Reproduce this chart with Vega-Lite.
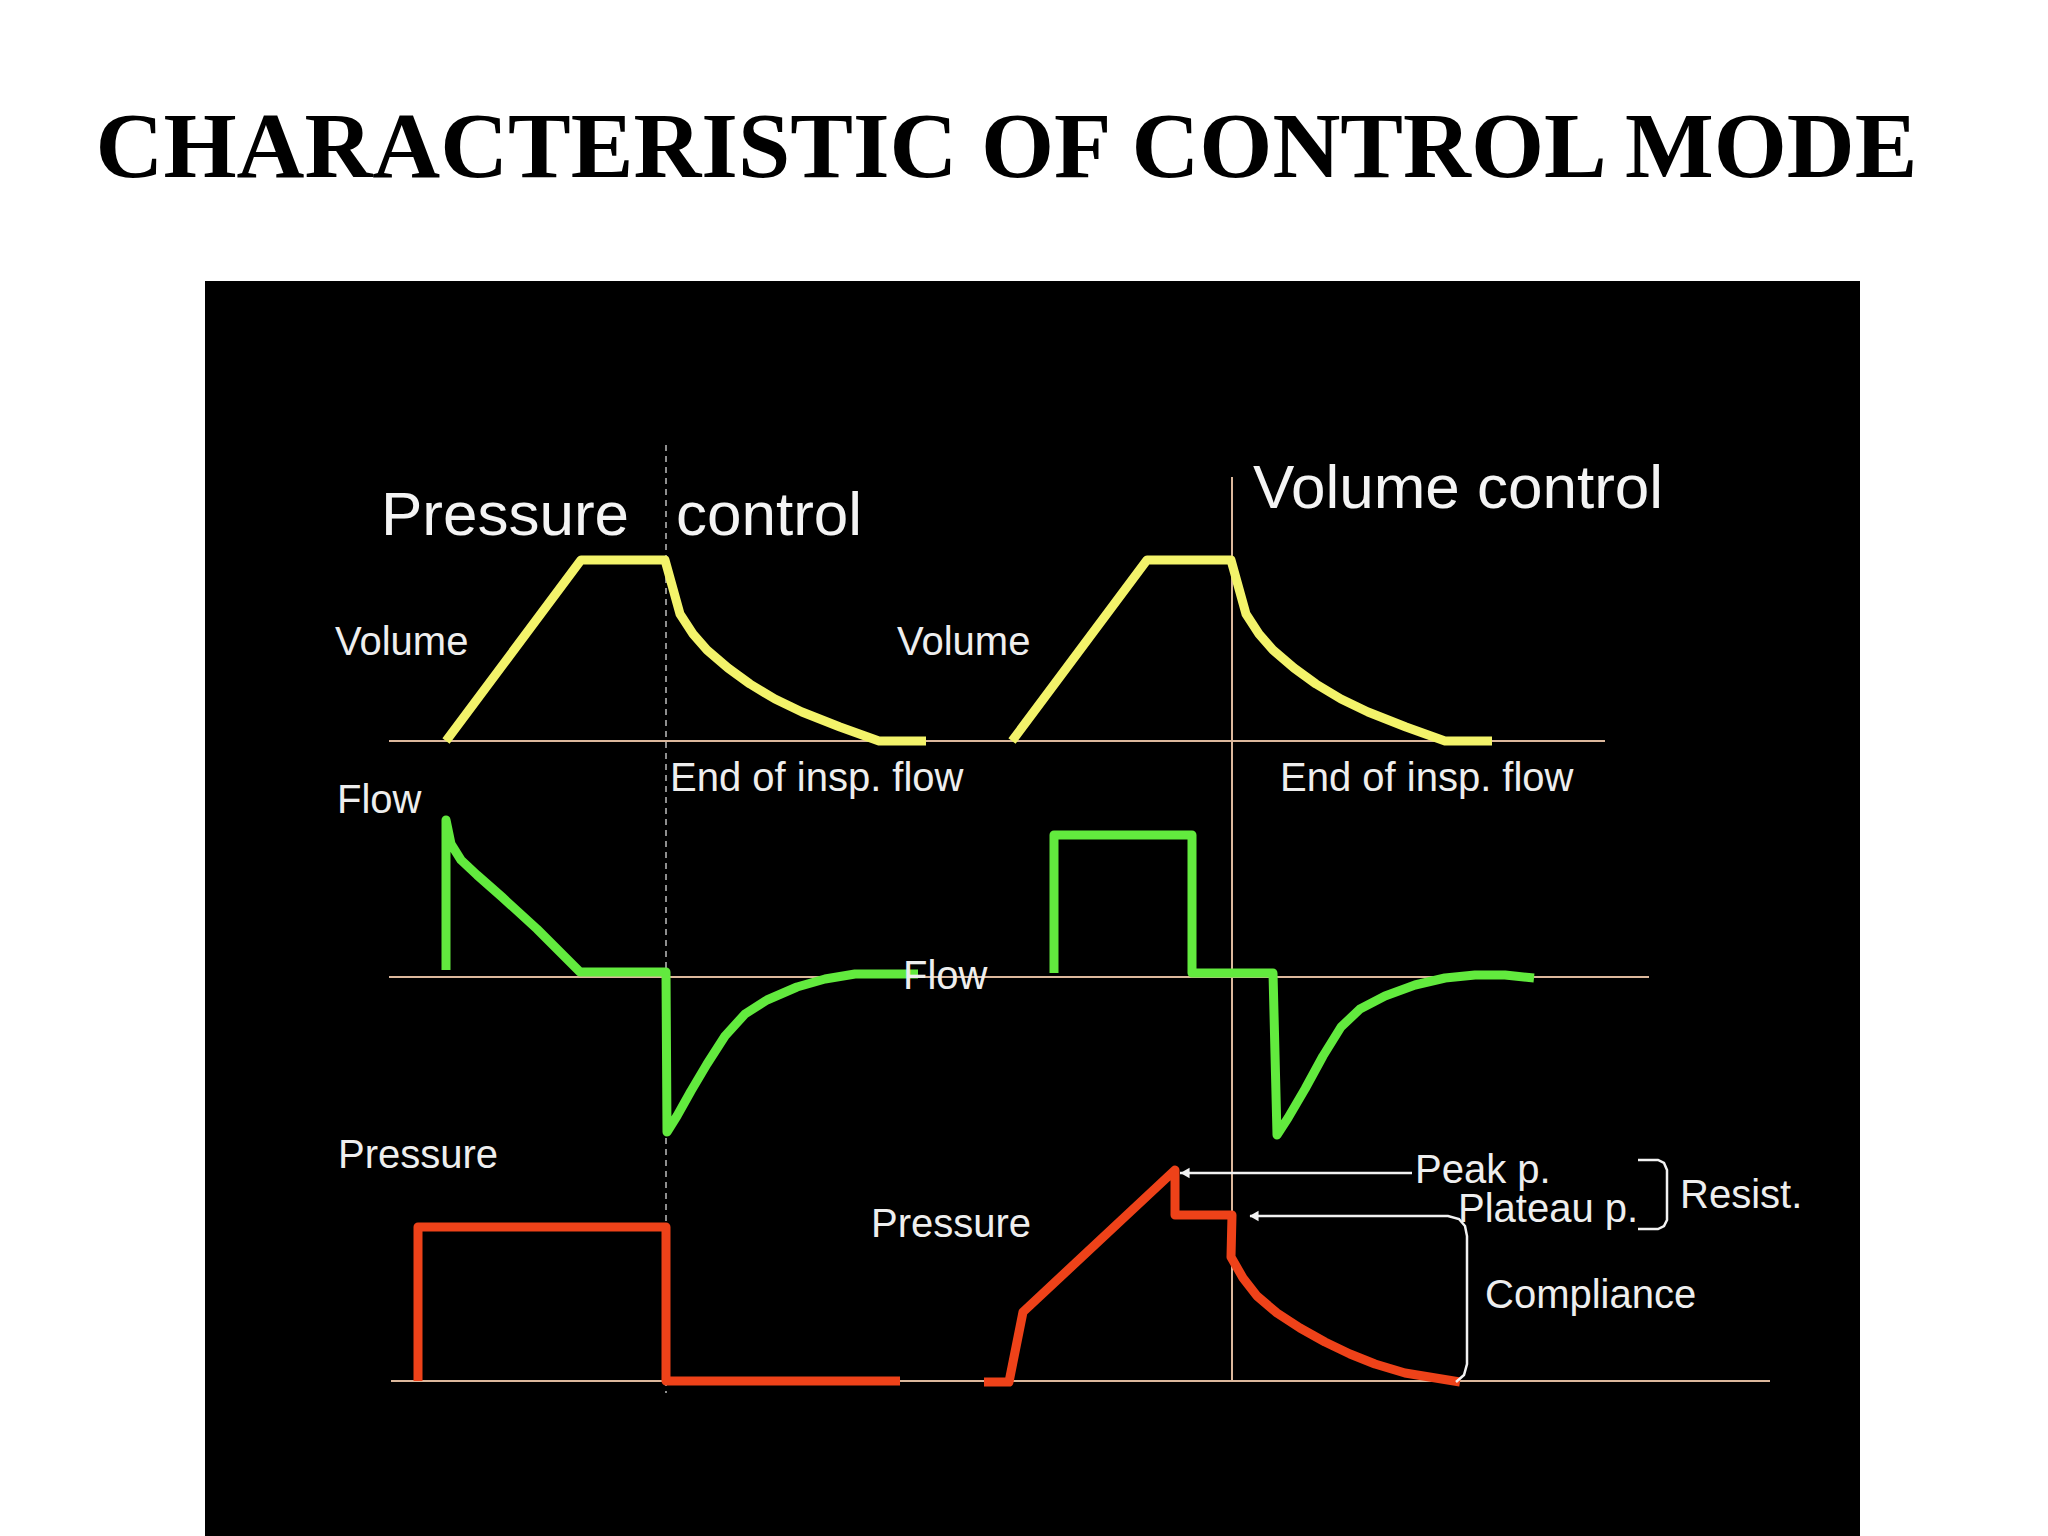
{
  "$schema": "https://vega.github.io/schema/vega-lite/v6.json",
  "width": 1655,
  "height": 1255,
  "autosize": {"type": "none"},
  "padding": {"left": 205, "top": 281, "right": 188, "bottom": 0},
  "background": "white",
  "config": {"view": {"fill": "black", "stroke": null}},
  "title": {
    "text": "CHARACTERISTIC OF CONTROL MODE",
    "font": "Liberation Serif",
    "fontSize": 94,
    "fontWeight": "bold",
    "color": "#000000",
    "anchor": "middle",
    "frame": "group",
    "baseline": "alphabetic",
    "offset": 10,
    "dx": -26
  },
  "datasets": {
    "curves": [
      {"curve": "PCvol", "signal": "Volume", "i": 0, "t": 241, "v": 795},
      {"curve": "PCvol", "signal": "Volume", "i": 1, "t": 376, "v": 976},
      {"curve": "PCvol", "signal": "Volume", "i": 2, "t": 460, "v": 976},
      {"curve": "PCvol", "signal": "Volume", "i": 3, "t": 475, "v": 922},
      {"curve": "PCvol", "signal": "Volume", "i": 4, "t": 488, "v": 902},
      {"curve": "PCvol", "signal": "Volume", "i": 5, "t": 502, "v": 886},
      {"curve": "PCvol", "signal": "Volume", "i": 6, "t": 523, "v": 868},
      {"curve": "PCvol", "signal": "Volume", "i": 7, "t": 545, "v": 852},
      {"curve": "PCvol", "signal": "Volume", "i": 8, "t": 570, "v": 837},
      {"curve": "PCvol", "signal": "Volume", "i": 9, "t": 597, "v": 824},
      {"curve": "PCvol", "signal": "Volume", "i": 10, "t": 635, "v": 809},
      {"curve": "PCvol", "signal": "Volume", "i": 11, "t": 674, "v": 795},
      {"curve": "PCvol", "signal": "Volume", "i": 12, "t": 721, "v": 795},
      {"curve": "VCvol", "signal": "Volume", "i": 0, "t": 807, "v": 795},
      {"curve": "VCvol", "signal": "Volume", "i": 1, "t": 942, "v": 976},
      {"curve": "VCvol", "signal": "Volume", "i": 2, "t": 1026, "v": 976},
      {"curve": "VCvol", "signal": "Volume", "i": 3, "t": 1041, "v": 922},
      {"curve": "VCvol", "signal": "Volume", "i": 4, "t": 1054, "v": 902},
      {"curve": "VCvol", "signal": "Volume", "i": 5, "t": 1068, "v": 886},
      {"curve": "VCvol", "signal": "Volume", "i": 6, "t": 1089, "v": 868},
      {"curve": "VCvol", "signal": "Volume", "i": 7, "t": 1111, "v": 852},
      {"curve": "VCvol", "signal": "Volume", "i": 8, "t": 1136, "v": 837},
      {"curve": "VCvol", "signal": "Volume", "i": 9, "t": 1163, "v": 824},
      {"curve": "VCvol", "signal": "Volume", "i": 10, "t": 1201, "v": 809},
      {"curve": "VCvol", "signal": "Volume", "i": 11, "t": 1240, "v": 795},
      {"curve": "VCvol", "signal": "Volume", "i": 12, "t": 1287, "v": 795},
      {"curve": "PCflow", "signal": "Flow", "i": 0, "t": 241, "v": 566},
      {"curve": "PCflow", "signal": "Flow", "i": 1, "t": 241, "v": 716},
      {"curve": "PCflow", "signal": "Flow", "i": 2, "t": 246, "v": 692},
      {"curve": "PCflow", "signal": "Flow", "i": 3, "t": 256, "v": 676},
      {"curve": "PCflow", "signal": "Flow", "i": 4, "t": 272, "v": 661},
      {"curve": "PCflow", "signal": "Flow", "i": 5, "t": 297, "v": 639},
      {"curve": "PCflow", "signal": "Flow", "i": 6, "t": 332, "v": 607},
      {"curve": "PCflow", "signal": "Flow", "i": 7, "t": 375, "v": 564},
      {"curve": "PCflow", "signal": "Flow", "i": 8, "t": 461, "v": 564},
      {"curve": "PCflow", "signal": "Flow", "i": 9, "t": 462, "v": 404},
      {"curve": "PCflow", "signal": "Flow", "i": 10, "t": 472, "v": 420},
      {"curve": "PCflow", "signal": "Flow", "i": 11, "t": 486, "v": 445},
      {"curve": "PCflow", "signal": "Flow", "i": 12, "t": 502, "v": 472},
      {"curve": "PCflow", "signal": "Flow", "i": 13, "t": 520, "v": 500},
      {"curve": "PCflow", "signal": "Flow", "i": 14, "t": 540, "v": 522},
      {"curve": "PCflow", "signal": "Flow", "i": 15, "t": 562, "v": 536},
      {"curve": "PCflow", "signal": "Flow", "i": 16, "t": 592, "v": 549},
      {"curve": "PCflow", "signal": "Flow", "i": 17, "t": 620, "v": 557},
      {"curve": "PCflow", "signal": "Flow", "i": 18, "t": 650, "v": 562},
      {"curve": "PCflow", "signal": "Flow", "i": 19, "t": 713, "v": 562},
      {"curve": "VCflow", "signal": "Flow", "i": 0, "t": 849, "v": 563},
      {"curve": "VCflow", "signal": "Flow", "i": 1, "t": 849, "v": 701},
      {"curve": "VCflow", "signal": "Flow", "i": 2, "t": 987, "v": 701},
      {"curve": "VCflow", "signal": "Flow", "i": 3, "t": 987, "v": 563},
      {"curve": "VCflow", "signal": "Flow", "i": 4, "t": 1068, "v": 563},
      {"curve": "VCflow", "signal": "Flow", "i": 5, "t": 1072, "v": 401},
      {"curve": "VCflow", "signal": "Flow", "i": 6, "t": 1083, "v": 418},
      {"curve": "VCflow", "signal": "Flow", "i": 7, "t": 1100, "v": 447},
      {"curve": "VCflow", "signal": "Flow", "i": 8, "t": 1118, "v": 480},
      {"curve": "VCflow", "signal": "Flow", "i": 9, "t": 1136, "v": 509},
      {"curve": "VCflow", "signal": "Flow", "i": 10, "t": 1155, "v": 527},
      {"curve": "VCflow", "signal": "Flow", "i": 11, "t": 1180, "v": 540},
      {"curve": "VCflow", "signal": "Flow", "i": 12, "t": 1210, "v": 551},
      {"curve": "VCflow", "signal": "Flow", "i": 13, "t": 1240, "v": 558},
      {"curve": "VCflow", "signal": "Flow", "i": 14, "t": 1270, "v": 561},
      {"curve": "VCflow", "signal": "Flow", "i": 15, "t": 1300, "v": 561},
      {"curve": "VCflow", "signal": "Flow", "i": 16, "t": 1329, "v": 558},
      {"curve": "PCpres", "signal": "Pressure", "i": 0, "t": 213, "v": 155},
      {"curve": "PCpres", "signal": "Pressure", "i": 1, "t": 213, "v": 309},
      {"curve": "PCpres", "signal": "Pressure", "i": 2, "t": 461, "v": 309},
      {"curve": "PCpres", "signal": "Pressure", "i": 3, "t": 461, "v": 155},
      {"curve": "PCpres", "signal": "Pressure", "i": 4, "t": 695, "v": 155},
      {"curve": "VCpres", "signal": "Pressure", "i": 0, "t": 779, "v": 154},
      {"curve": "VCpres", "signal": "Pressure", "i": 1, "t": 804, "v": 154},
      {"curve": "VCpres", "signal": "Pressure", "i": 2, "t": 818, "v": 224},
      {"curve": "VCpres", "signal": "Pressure", "i": 3, "t": 970, "v": 366},
      {"curve": "VCpres", "signal": "Pressure", "i": 4, "t": 970, "v": 321},
      {"curve": "VCpres", "signal": "Pressure", "i": 5, "t": 1027, "v": 321},
      {"curve": "VCpres", "signal": "Pressure", "i": 6, "t": 1026, "v": 279},
      {"curve": "VCpres", "signal": "Pressure", "i": 7, "t": 1038, "v": 258},
      {"curve": "VCpres", "signal": "Pressure", "i": 8, "t": 1052, "v": 240},
      {"curve": "VCpres", "signal": "Pressure", "i": 9, "t": 1072, "v": 223},
      {"curve": "VCpres", "signal": "Pressure", "i": 10, "t": 1095, "v": 208},
      {"curve": "VCpres", "signal": "Pressure", "i": 11, "t": 1120, "v": 194},
      {"curve": "VCpres", "signal": "Pressure", "i": 12, "t": 1145, "v": 182},
      {"curve": "VCpres", "signal": "Pressure", "i": 13, "t": 1170, "v": 172},
      {"curve": "VCpres", "signal": "Pressure", "i": 14, "t": 1200, "v": 163},
      {"curve": "VCpres", "signal": "Pressure", "i": 15, "t": 1255, "v": 154}
    ],
    "baselines": [
      {"name": "volume axis", "t": 184, "t2": 1400, "v": 795, "v2": 795},
      {"name": "flow axis", "t": 184, "t2": 1444, "v": 559, "v2": 559},
      {"name": "pressure axis", "t": 186, "t2": 1565, "v": 155, "v2": 155},
      {"name": "VC end of insp.", "t": 1027, "t2": 1027, "v": 1059, "v2": 156}
    ],
    "dashed": [
      {"name": "PC end of insp.", "t": 461, "v": 1091, "v2": 143}
    ],
    "annot": [
      {"part": "peak", "i": 0, "t": 975, "v": 363},
      {"part": "peak", "i": 1, "t": 1207, "v": 363},
      {"part": "plateau", "i": 0, "t": 1045, "v": 320},
      {"part": "plateau", "i": 1, "t": 1243, "v": 320},
      {"part": "plateau", "i": 2, "t": 1254, "v": 317},
      {"part": "plateau", "i": 3, "t": 1260, "v": 310},
      {"part": "plateau", "i": 4, "t": 1262, "v": 300},
      {"part": "plateau", "i": 5, "t": 1262, "v": 172},
      {"part": "plateau", "i": 6, "t": 1259, "v": 161},
      {"part": "plateau", "i": 7, "t": 1251, "v": 154},
      {"part": "resist", "i": 0, "t": 1433, "v": 376},
      {"part": "resist", "i": 1, "t": 1453, "v": 376},
      {"part": "resist", "i": 2, "t": 1459, "v": 373},
      {"part": "resist", "i": 3, "t": 1462, "v": 366},
      {"part": "resist", "i": 4, "t": 1462, "v": 316},
      {"part": "resist", "i": 5, "t": 1459, "v": 310},
      {"part": "resist", "i": 6, "t": 1453, "v": 307},
      {"part": "resist", "i": 7, "t": 1433, "v": 307}
    ],
    "arrows": [
      {"part": "peak", "t": 980, "v": 363},
      {"part": "plateau", "t": 1049, "v": 320}
    ],
    "headers": [
      {"label": "Pressure", "t": 176, "v": 1001},
      {"label": "control", "t": 471, "v": 1001},
      {"label": "Volume control", "t": 1048, "v": 1028}
    ],
    "labels": [
      {"label": "Volume", "t": 130, "v": 881},
      {"label": "Volume", "t": 692, "v": 881},
      {"label": "End of insp. flow", "t": 465, "v": 745},
      {"label": "End of insp. flow", "t": 1075, "v": 745},
      {"label": "Flow", "t": 132, "v": 723},
      {"label": "Flow", "t": 698, "v": 547},
      {"label": "Pressure", "t": 133, "v": 368},
      {"label": "Pressure", "t": 666, "v": 299},
      {"label": "Peak p.", "t": 1210, "v": 353},
      {"label": "Plateau p.", "t": 1253, "v": 314},
      {"label": "Resist.", "t": 1475, "v": 328},
      {"label": "Compliance", "t": 1280, "v": 228}
    ]
  },
  "layer": [
    {
      "data": {"name": "baselines"},
      "mark": {"type": "rule", "color": "#dcb89c", "strokeWidth": 2},
      "encoding": {
        "x": {"field": "t", "type": "quantitative", "scale": {"domain": [0, 1655], "nice": false, "zero": false}, "axis": null},
        "x2": {"field": "t2"},
        "y": {"field": "v", "type": "quantitative", "scale": {"domain": [0, 1255], "nice": false, "zero": false}, "axis": null},
        "y2": {"field": "v2"}
      }
    },
    {
      "data": {"name": "dashed"},
      "mark": {"type": "rule", "color": "#bdbdbd", "strokeWidth": 1.5, "strokeDash": [6, 5]},
      "encoding": {
        "x": {"field": "t", "type": "quantitative", "axis": null},
        "y": {"field": "v", "type": "quantitative", "axis": null},
        "y2": {"field": "v2"}
      }
    },
    {
      "data": {"name": "curves"},
      "mark": {"type": "line", "strokeWidth": 9, "strokeJoin": "round", "strokeCap": "butt"},
      "encoding": {
        "x": {"field": "t", "type": "quantitative", "axis": null},
        "y": {"field": "v", "type": "quantitative", "axis": null},
        "detail": {"field": "curve"},
        "order": {"field": "i", "type": "quantitative"},
        "color": {"field": "signal", "type": "nominal", "scale": {"domain": ["Volume", "Flow", "Pressure"], "range": ["#f3f36a", "#62ea3e", "#ee4219"]}, "legend": null}
      }
    },
    {
      "data": {"name": "annot"},
      "mark": {"type": "line", "color": "#f2f2f2", "strokeWidth": 2.5},
      "encoding": {
        "x": {"field": "t", "type": "quantitative", "axis": null},
        "y": {"field": "v", "type": "quantitative", "axis": null},
        "detail": {"field": "part"},
        "order": {"field": "i", "type": "quantitative"}
      }
    },
    {
      "data": {"name": "arrows"},
      "mark": {"type": "point", "shape": "triangle-left", "filled": true, "color": "#f2f2f2", "size": 110, "opacity": 1},
      "encoding": {
        "x": {"field": "t", "type": "quantitative", "axis": null},
        "y": {"field": "v", "type": "quantitative", "axis": null}
      }
    },
    {
      "data": {"name": "headers"},
      "mark": {"type": "text", "font": "Liberation Sans", "fontSize": 62, "color": "#f4f4f4", "align": "left", "baseline": "alphabetic"},
      "encoding": {
        "x": {"field": "t", "type": "quantitative", "axis": null},
        "y": {"field": "v", "type": "quantitative", "axis": null},
        "text": {"field": "label"}
      }
    },
    {
      "data": {"name": "labels"},
      "mark": {"type": "text", "font": "Liberation Sans", "fontSize": 40, "color": "#eeeeee", "align": "left", "baseline": "alphabetic"},
      "encoding": {
        "x": {"field": "t", "type": "quantitative", "axis": null},
        "y": {"field": "v", "type": "quantitative", "axis": null},
        "text": {"field": "label"}
      }
    }
  ]
}
